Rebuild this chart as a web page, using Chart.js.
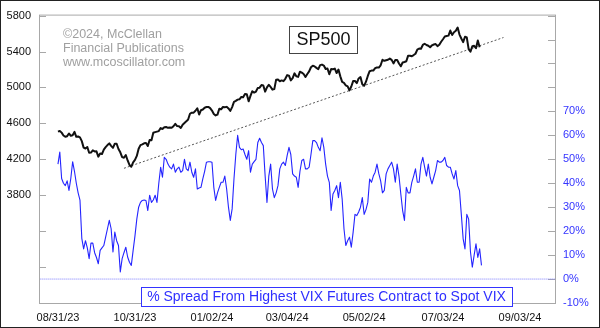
<!DOCTYPE html>
<html lang="en">
<head>
<meta charset="UTF-8">
<title>SP500 and VIX Futures Spread</title>
<script src="https://cdn.jsdelivr.net/npm/chart.js"></script>
<style>
  html, body { margin: 0; padding: 0; background: #fff; }
  #wrap { width: 600px; height: 328px; position: relative; }
</style>
</head>
<body>
<div id="wrap"><canvas id="spxChart"></canvas></div>
<script>
// S&P 500 daily closes, 08/31/23 through 08/01/24 (one value per trading day)
const spxClose = [
  4507.66,
  // Sep 2023
  4515.77, 4496.83, 4465.48, 4451.14, 4457.49, 4487.46, 4461.90, 4467.44, 4505.10, 4450.32,
  4453.53, 4443.95, 4402.20, 4330.00, 4320.06, 4337.44, 4273.53, 4274.51, 4299.70, 4288.05,
  // Oct
  4288.39, 4229.45, 4263.75, 4258.19, 4308.50, 4335.66, 4358.24, 4376.95, 4349.61, 4327.78,
  4373.63, 4373.20, 4314.60, 4278.00, 4224.16, 4217.04, 4247.68, 4186.77, 4137.23, 4117.37,
  4166.82, 4193.80,
  // Nov
  4237.86, 4317.78, 4358.34, 4365.98, 4378.38, 4382.78, 4347.35, 4415.24, 4411.55, 4495.70,
  4502.88, 4508.24, 4514.02, 4547.38, 4538.19, 4556.62, 4559.34, 4550.43, 4554.89, 4550.58,
  4567.80,
  // Dec
  4594.63, 4569.78, 4567.18, 4549.34, 4585.59, 4604.37, 4622.44, 4643.70, 4707.09, 4719.55,
  4719.19, 4740.56, 4768.37, 4698.35, 4746.75, 4754.63, 4774.75, 4781.58, 4783.35, 4769.83,
  // Jan 2024
  4742.83, 4704.81, 4688.68, 4697.24, 4763.54, 4756.50, 4783.45, 4780.24, 4783.83, 4765.98,
  4739.21, 4780.94, 4839.81, 4850.43, 4864.60, 4868.55, 4894.16, 4890.97, 4927.93, 4924.97,
  4845.65,
  // Feb
  4906.19, 4958.61, 4942.81, 4954.23, 4995.06, 4997.91, 5026.61, 5021.84, 4953.17, 5000.62,
  5029.73, 5005.57, 4975.51, 4981.80, 5087.03, 5088.80, 5069.53, 5078.18, 5069.76, 5096.27,
  // Mar
  5137.08, 5130.95, 5078.65, 5104.76, 5157.36, 5123.69, 5117.94, 5175.27, 5165.31, 5150.48,
  5117.09, 5149.42, 5178.51, 5224.62, 5241.53, 5234.18, 5218.19, 5203.58, 5248.49, 5254.35,
  // Apr
  5243.77, 5205.81, 5211.49, 5147.21, 5204.34, 5202.39, 5209.91, 5160.64, 5199.06, 5123.41,
  5061.82, 5051.41, 5022.21, 5011.12, 4967.23, 5010.60, 5070.55, 5071.63, 5048.42, 5099.96,
  5116.17, 5035.69,
  // May
  5018.39, 5064.20, 5127.79, 5180.74, 5187.70, 5187.67, 5214.08, 5222.68, 5221.42, 5246.68,
  5308.15, 5297.10, 5303.27, 5308.13, 5321.41, 5307.01, 5267.84, 5304.72, 5306.04, 5266.95,
  5235.48, 5277.51,
  // Jun
  5283.40, 5291.34, 5354.03, 5352.96, 5346.99, 5360.79, 5375.32, 5421.03, 5433.74, 5431.60,
  5473.23, 5487.03, 5473.17, 5464.62, 5447.87, 5469.30, 5477.90, 5482.87, 5460.48,
  // Jul
  5475.09, 5509.01, 5537.02, 5567.19, 5572.85, 5576.98, 5633.91, 5584.54, 5615.35, 5631.22,
  5667.20, 5588.27, 5544.59, 5505.00, 5564.41, 5555.74, 5427.13, 5399.22, 5459.10, 5463.54,
  5436.44, 5522.30,
  // Aug
  5446.68
];

// % spread from highest VIX futures contract to spot VIX, same trading days
const vixSpread = [
  48, 53, 42, 40, 39, 41, 37, 42, 49, 45,
  40, 36, 33, 17, 12.6, 16, 13, 8.5, 15, 15,
  11, 9, 6.4, 12, 13, 14, 17.5, 21, 24.5, 21,
  11.3, 19.6, 16, 14, 3, 8.5, 11, 13.3, 9.2, 7,
  5.7, 12, 18, 25, 30, 32, 32.8, 33, 32.8, 28.6,
  35, 32, 33, 35, 32, 40, 46.7, 42.5, 50.8, 50,
  48, 46.7, 46, 48, 44.6, 46, 46.7, 44.6, 45.3, 50,
  46, 45.3, 48.8, 44.6, 42.5, 46, 37.6, 38, 38.3, 41.8,
  45, 48.8, 49, 49, 48.8, 38.3, 32.8, 36, 38.3, 40.4,
  40.4, 43, 37.6, 30, 24.5, 29.3, 41.8, 52, 60, 55,
  54, 54.3, 52, 50, 53.6, 44.6, 48, 49, 50, 57,
  58.8, 57, 55.7, 43, 32, 43, 48, 37.6, 34, 36,
  39, 46, 48, 48.8, 47.4, 51.5, 55, 52, 43.9, 43,
  42.5, 38.3, 45, 49.5, 50, 46, 46, 46.7, 52, 57.8,
  57.8, 57, 55, 53.6, 59, 55, 48, 43, 40.4, 28.6,
  35.5, 37, 39, 34, 40.4, 33.5, 21, 14, 16, 17.5,
  13.3, 19.6, 27, 26.5, 28, 30, 34, 27, 29, 32,
  41.8, 40.4, 43, 44.6, 48, 44, 41, 36, 37, 43.9,
  46, 47.4, 48.8, 46, 40.4, 48, 43, 35.5, 28.6, 24.5,
  38.3, 36, 36, 40.4, 43, 46, 40.4, 40.4, 48, 50.8,
  46.7, 43, 48, 42.5, 39.7, 42.5, 45.3, 49.5, 48.8, 48.8,
  49.5, 50.8, 47.4, 46.7, 46.7, 43.9, 41.8, 45.3, 39, 37,
  27, 16.8, 12.6, 27, 25, 11.3, 5, 10, 14.7, 9,
  12.6, 5.7
];

// dotted support line under the SP500 lows: [day index, level]
const trendStart = [36, 4100];
const trendEnd = [243, 5556];

// x axis: trading-day index of each date label
const dateTickIdx = [0, 42, 84, 125, 167, 210, 252];
const dateLabels = ['08/31/23', '10/31/23', '01/02/24', '03/04/24', '05/02/24', '07/03/24', '09/03/24'];

const FONT = '"Liberation Sans", Arial, sans-serif';

const toPoints = arr => arr.map((v, i) => ({ x: i, y: v }));

// frame, inside tick marks and the text boxes
const framePlugin = {
  id: 'frame',
  beforeDatasetsDraw(chart) {
    const { ctx, chartArea: a, scales } = chart;
    ctx.save();
    ctx.strokeStyle = '#a8a8a8';
    ctx.lineWidth = 1;
    ctx.strokeRect(a.left - 0.5, a.top - 0.5, a.right - a.left + 1, a.bottom - a.top + 1);
    ctx.beginPath();
    scales.y.ticks.forEach(t => {
      const y = Math.round(scales.y.getPixelForValue(t.value)) + 0.5;
      ctx.moveTo(a.left, y);
      ctx.lineTo(a.left + 6, y);
    });
    scales.y1.ticks.forEach(t => {
      const y = Math.round(scales.y1.getPixelForValue(t.value)) + 0.5;
      ctx.moveTo(a.right - 7, y);
      ctx.lineTo(a.right, y);
    });
    ctx.stroke();

    // copyright block
    ctx.fillStyle = '#a0a0a0';
    ctx.font = '12.5px ' + FONT;
    ctx.textBaseline = 'alphabetic';
    ctx.fillText('\u00a92024, McClellan', a.left + 23, 38);
    ctx.fillText('Financial Publications', a.left + 23, 52);
    ctx.fillText('www.mcoscillator.com', a.left + 23, 66);
    ctx.restore();
  },
  afterDraw(chart) {
    const { ctx, width, height } = chart;
    ctx.save();

    // SP500 title box
    ctx.fillStyle = '#fff';
    ctx.fillRect(289, 26, 68, 27);
    ctx.strokeStyle = '#444';
    ctx.lineWidth = 1;
    ctx.strokeRect(289.5, 26.5, 68, 27);
    ctx.fillStyle = '#111';
    ctx.font = '18px ' + FONT;
    ctx.textAlign = 'center';
    ctx.textBaseline = 'middle';
    ctx.fillText('SP500', 323.5, 40.5);

    // lower panel caption
    ctx.fillStyle = '#fff';
    ctx.fillRect(141, 287, 371, 19);
    ctx.strokeStyle = '#3434ff';
    ctx.strokeRect(141.5, 287.5, 371, 19);
    ctx.fillStyle = '#2f2fff';
    ctx.font = '14px ' + FONT;
    ctx.fillText('% Spread From Highest VIX Futures Contract to Spot VIX', 326.5, 297.5);

    // outer border
    ctx.strokeStyle = '#222';
    ctx.strokeRect(0.5, 0.5, width - 1, height - 1);
    ctx.restore();
  }
};

const ctx = document.getElementById('spxChart').getContext('2d');

const config = {
  type: 'line',
  data: {
    datasets: [
      {
        label: 'VIX spread',
        data: toPoints(vixSpread),
        yAxisID: 'y1',
        borderColor: '#2424ff',
        borderWidth: 1.1
      },
      {
        label: 'SP500',
        data: toPoints(spxClose),
        yAxisID: 'y',
        borderColor: '#111',
        borderWidth: 2
      },
      {
        label: 'Trend',
        data: [{ x: trendStart[0], y: trendStart[1] }, { x: trendEnd[0], y: trendEnd[1] }],
        yAxisID: 'y',
        borderColor: '#555',
        borderWidth: 1,
        borderDash: [2, 2]
      },
      {
        label: 'Zero',
        data: [{ x: -10, y: 0 }, { x: 272, y: 0 }],
        yAxisID: 'y1',
        borderColor: '#7a7aff',
        borderWidth: 1,
        borderDash: [1, 1]
      }
    ]
  },
  options: {
    responsive: true,
    maintainAspectRatio: false,
    animation: false,
    devicePixelRatio: 1,
    layout: { padding: { top: 15, left: 0, right: 0, bottom: 0 } },
    elements: {
      point: { radius: 0 },
      line: { tension: 0, borderJoinStyle: 'round' }
    },
    plugins: {
      legend: { display: false },
      tooltip: { enabled: false }
    },
    scales: {
      x: {
        type: 'linear',
        min: -9.8,
        max: 271.1,
        grid: { display: false, drawTicks: false },
        border: { display: false },
        afterBuildTicks: axis => { axis.ticks = dateTickIdx.map(v => ({ value: v })); },
        afterFit: axis => { axis.height = 25; },
        ticks: {
          autoSkip: false,
          maxRotation: 0,
          padding: 8,
          color: '#111',
          font: { family: FONT, size: 11 },
          callback: v => dateLabels[dateTickIdx.indexOf(v)]
        }
      },
      y: {
        position: 'left',
        min: 2600,
        max: 5800,
        grid: { display: false, drawTicks: false },
        border: { display: false },
        afterFit: axis => { axis.width = 40; },
        ticks: {
          stepSize: 400,
          padding: 9,
          color: '#111',
          font: { family: FONT, size: 11 },
          callback: v => (v >= 3800 ? String(v) : '')
        }
      },
      y1: {
        position: 'right',
        min: -10,
        max: 110,
        grid: { display: false, drawTicks: false },
        border: { display: false },
        afterFit: axis => { axis.width = 45; },
        ticks: {
          stepSize: 10,
          padding: 8,
          color: '#3434ff',
          font: { family: FONT, size: 11 },
          callback: v => (v <= 70 ? v + '%' : '')
        }
      }
    }
  },
  plugins: [framePlugin]
};

const spxChart = new Chart(ctx, config);
</script>
</body>
</html>
